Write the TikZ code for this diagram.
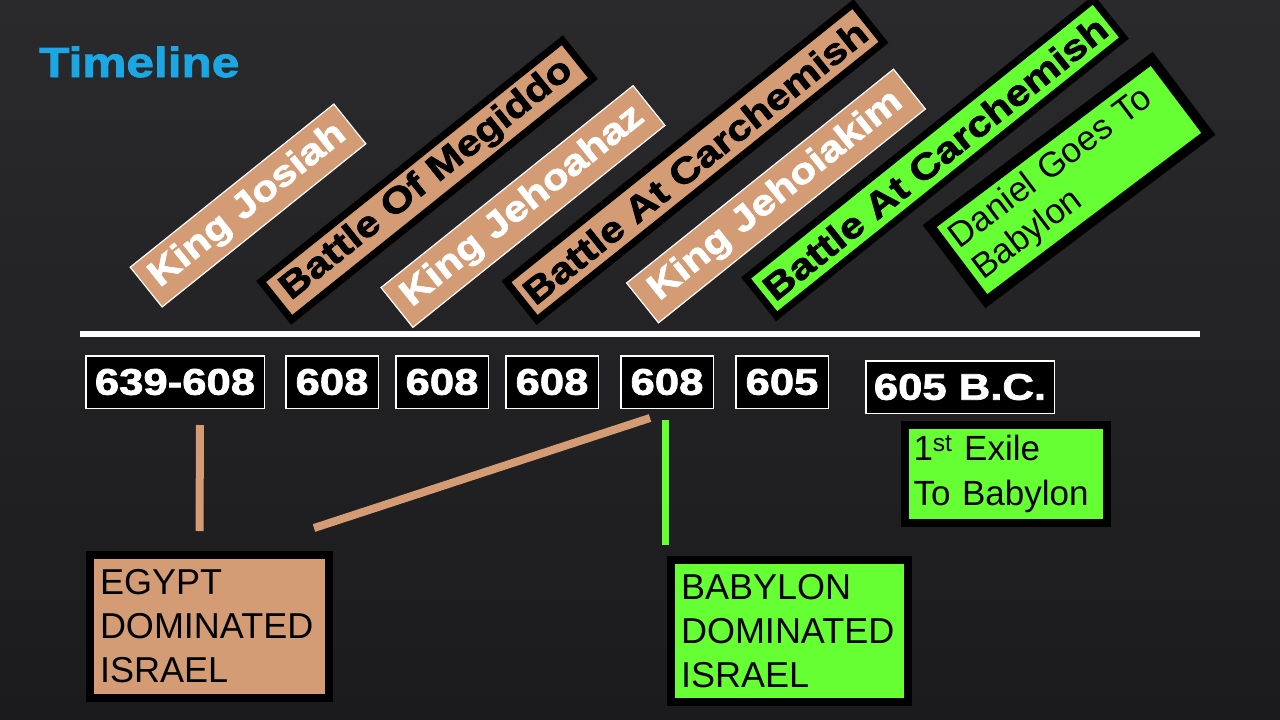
\documentclass[tikz,border=0pt]{standalone}
\usepackage{fontspec}
\setmainfont{Liberation Sans}
\newfontfamily\heavyfont[FakeStretch=1.18, FakeBold=2]{Liberation Sans Bold}
\usetikzlibrary{calc}

\definecolor{bgtop}{RGB}{42,42,44}
\definecolor{bgbot}{RGB}{27,27,29}
\definecolor{tanfill}{RGB}{212,156,116}
\definecolor{babgreen}{RGB}{102,255,51}
\definecolor{titleblue}{RGB}{27,167,228}

\tikzset{
  kinglabel/.style={draw=white, line width=1.2pt, fill=tanfill, text=white,
    rotate=38.7, minimum width=#1, minimum height=51pt, inner sep=0pt,
    font=\heavyfont\fontsize{36}{40}\selectfont},
  battle/.style={draw=black, line width=7pt, text=black,
    rotate=38.7, minimum width=#1, minimum height=49pt, inner sep=0pt,
    font=\heavyfont\fontsize{36}{40}\selectfont},
  yearbox/.style={draw=white, line width=1.5pt, fill=black, text=white,
    minimum width=#1, minimum height=52.5pt, inner sep=0pt,
    font=\heavyfont\fontsize{37}{40}\selectfont},
  rulebox/.style={draw=black, line width=8pt, text=black, align=left,
    inner xsep=10pt, inner ysep=0pt, font=\fontsize{36}{44}\selectfont},
  link/.style={line width=8pt}
}

\begin{document}
\begin{tikzpicture}[x=1pt, y=-1pt]
  \shade[top color=bgtop, bottom color=bgbot] (0,0) rectangle (1280,720);
  \useasboundingbox (0,0) rectangle (1280,720);

  \node[anchor=base west, inner sep=0pt, text=titleblue,
    font=\heavyfont\fontsize{42}{46}\selectfont] (title) at (39,77) {Timeline};

  % events, slanted
  \node[kinglabel=261pt] (josiah) at (248,205.5) {King Josiah};
  \node[battle=386pt, fill=tanfill] (megiddo) at (427,180) {Battle Of Megiddo};
  \node[kinglabel=323pt] (jehoahaz) at (523,206.5) {King Jehoahaz};
  \node[battle=444pt, fill=tanfill] (carchA) at (695,162) {Battle At Carchemish};
  \node[kinglabel=342pt] (jehoiakim) at (776,196) {King Jehoiakim};
  \node[battle=445pt, fill=babgreen] (carchB) at (935,158) {Battle At Carchemish};
  \node[draw=black, line width=10pt, fill=babgreen, rotate=37, align=left,
    text width=258pt, minimum height=94pt, inner xsep=10pt, inner ysep=0pt,
    font=\fontsize{35}{39}\selectfont] (daniel) at (1069,180)
    {Daniel Goes To\\Babylon};

  \draw[white, line width=6pt] (80,334) -- (1200,334);

  % dates
  \node[yearbox=178.5pt] (yr1) at (175,382) {639-608};
  \node[yearbox=92.5pt] (yr2) at (332,382) {608};
  \node[yearbox=92.5pt] (yr3) at (442,382) {608};
  \node[yearbox=92.5pt] (yr4) at (552,382) {608};
  \node[yearbox=92.5pt] (yr5) at (667,382) {608};
  \node[yearbox=92.5pt] (yr6) at (782,382) {605};
  \node[yearbox=188.5pt] (yr7) at (960,387) {605 B.C.};

  % who ruled
  \node[rulebox, fill=tanfill, text width=219pt, minimum height=143pt] (egypt)
    at (209.5,626.5) {EGYPT\\DOMINATED\\ISRAEL};
  \node[rulebox, fill=babgreen, text width=217pt, minimum height=142pt] (babylon)
    at (789.5,631) {BABYLON\\DOMINATED\\ISRAEL};
  \node[rulebox, fill=babgreen, text width=185pt, minimum height=98pt, inner xsep=8.5pt,
    font=\fontsize{35}{45}\selectfont] (exile)
    at (1006,474) {1\textsuperscript{st} Exile\\To Babylon};

  \draw[link, tanfill] ([xshift=25pt,yshift=-16pt]yr1.south) -- ([xshift=-10pt,yshift=20pt]egypt.north);
  \draw[link, tanfill] ([xshift=-19pt,yshift=23pt]egypt.north east) -- ([xshift=-17pt,yshift=-9pt]yr5.south);
  \coordinate (gtop) at ([xshift=-2pt,yshift=-11pt]yr5.south);
  \draw[link, line width=7pt, babgreen] (gtop) -- ++(0,125);
\end{tikzpicture}
\end{document}
